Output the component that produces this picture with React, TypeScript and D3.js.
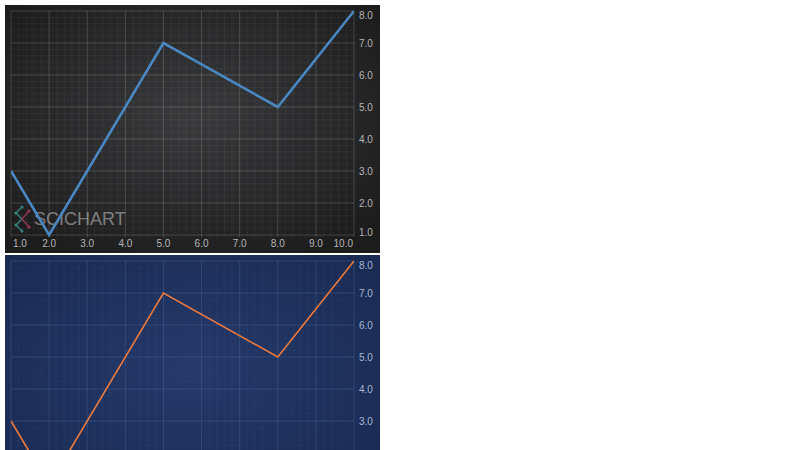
import { useMemo } from "react";
import * as d3 from "d3";

/* data */
const xValues = [1, 2, 5, 8, 10];
const yValues = [3, 1, 7, 5, 8];
const xTicks = [1, 2, 3, 4, 5, 6, 7, 8, 9, 10];
const yTicks = [1, 2, 3, 4, 5, 6, 7, 8];

interface Theme {
  id: string;
  bgEdge: string;
  bgCenter: string;
  major: string;
  minor: string;
  label: string;
  line: string;
  lineWidth: number;
  watermark: boolean;
}

const darkTheme: Theme = {
  id: "dark",
  bgEdge: "#1c1c1d",
  bgCenter: "#393a3c",
  major: "rgba(255,255,255,0.13)",
  minor: "rgba(255,255,255,0.045)",
  label: "#b4b4b4",
  line: "#4a86c0",
  lineWidth: 2.6,
  watermark: true,
};

const blueTheme: Theme = {
  id: "blue",
  bgEdge: "#1a2b52",
  bgCenter: "#23396a",
  major: "rgba(160,190,240,0.12)",
  minor: "rgba(160,190,240,0.045)",
  label: "#a6b6d4",
  line: "#ee7a3c",
  lineWidth: 1.6,
  watermark: false,
};

const VIEW_H = 450;
const PANEL_W = 375;
const PANEL_H = 248;
const PLOT = { left: 6, top: 6, right: 349, bottom: 230 };
const FONT = "'Liberation Sans', Arial, sans-serif";

function Panel({ theme, x0, y0 }: { theme: Theme; x0: number; y0: number }) {
  const xScale = useMemo(
    () => d3.scaleLinear().domain([1, 10]).range([PLOT.left, PLOT.right]),
    []
  );
  const yScale = useMemo(
    () => d3.scaleLinear().domain([1, 8]).range([PLOT.bottom, PLOT.top]),
    []
  );

  const path = useMemo(() => {
    const line = d3
      .line<number>()
      .x((_, i) => xScale(xValues[i]))
      .y((d) => yScale(d));
    return line(yValues) ?? "";
  }, [xScale, yScale]);

  const minorX = d3.range(1, 10.001, 0.2);
  const minorY = d3.range(1, 8.001, 0.2);
  const fmt = d3.format(".1f");
  // the page window cuts the lower panel; labels below it are not drawn
  const visible = (y: number) => y0 + y + 5 < VIEW_H;

  return (
    <g transform={`translate(${x0},${y0})`}>
      <defs>
        <radialGradient id={`bg-${theme.id}`} cx="50%" cy="45%" r="65%">
          <stop offset="0%" stopColor={theme.bgCenter} />
          <stop offset="100%" stopColor={theme.bgEdge} />
        </radialGradient>
        <clipPath id={`clip-${theme.id}`}>
          <rect x={PLOT.left} y={PLOT.top - 2} width={PLOT.right - PLOT.left} height={PLOT.bottom - PLOT.top + 4} />
        </clipPath>
      </defs>
      <rect width={PANEL_W} height={PANEL_H} fill={`url(#bg-${theme.id})`} />

      {/* minor grid */}
      {minorX.map((v, i) => (
        <line key={`mx${i}`} x1={xScale(v)} x2={xScale(v)} y1={PLOT.top} y2={PLOT.bottom + 2} stroke={theme.minor} />
      ))}
      {minorY.map((v, i) => (
        <line key={`my${i}`} y1={yScale(v)} y2={yScale(v)} x1={PLOT.left} x2={PLOT.right} stroke={theme.minor} />
      ))}
      {/* major grid */}
      {xTicks.map((v) => (
        <line key={`gx${v}`} x1={xScale(v)} x2={xScale(v)} y1={PLOT.top} y2={PLOT.bottom + 2} stroke={theme.major} />
      ))}
      {yTicks.map((v) => (
        <line key={`gy${v}`} y1={yScale(v)} y2={yScale(v)} x1={PLOT.left} x2={PLOT.right} stroke={theme.major} />
      ))}

      {theme.watermark && (
        <g opacity={0.75}>
          <polyline points="17,202 11,208 17,214 11,220 17,226" fill="none" stroke="#3aa6a0" strokeWidth={1.3} />
          <polyline points="24,206 17,214 24,222" fill="none" stroke="#c0406a" strokeWidth={1.3} />
          {[
            [17, 202],
            [11, 208],
            [11, 220],
            [17, 226],
            [24, 206],
            [24, 222],
          ].map(([cx, cy], i) => (
            <circle key={i} cx={cx} cy={cy} r={1.6} fill={i > 3 ? "#c0406a" : "#3aa6a0"} />
          ))}
          <text x={29} y={220} fontSize={18} fill="rgba(255,255,255,0.55)" fontFamily={FONT}>
            SCICHART
          </text>
        </g>
      )}

      <path
        d={path}
        fill="none"
        stroke={theme.line}
        strokeWidth={theme.lineWidth}
        strokeLinejoin="miter"
        clipPath={`url(#clip-${theme.id})`}
      />

      {/* x axis labels */}
      {visible(PLOT.bottom + 12) &&
        xTicks.map((v, i) => (
          <text
            key={`xl${v}`}
            x={i === 0 ? xScale(v) + 2 : i === xTicks.length - 1 ? xScale(v) - 1 : xScale(v)}
            y={PLOT.bottom + 12}
            textAnchor={i === 0 ? "start" : i === xTicks.length - 1 ? "end" : "middle"}
            fontSize={10}
            fill={theme.label}
            fontFamily={FONT}
          >
            {fmt(v)}
          </text>
        ))}
      {/* y axis labels */}
      {yTicks.map((v) => {
        const y = Math.min(Math.max(yScale(v), PLOT.top + 4), PLOT.bottom - 3);
        if (!visible(y)) return null;
        return (
          <text
            key={`yl${v}`}
            x={PLOT.right + 5}
            y={y}
            dy="0.35em"
            fontSize={10}
            fill={theme.label}
            fontFamily={FONT}
          >
            {fmt(v)}
          </text>
        );
      })}
    </g>
  );
}

export default function App() {
  return (
    <div style={{ position: "fixed", left: 0, top: 0, width: 800, height: VIEW_H, background: "#fff", overflow: "hidden" }}>
      <svg width={800} height={VIEW_H} style={{ display: "block" }}>
        <Panel theme={darkTheme} x0={5} y0={5} />
        <Panel theme={blueTheme} x0={5} y0={255} />
      </svg>
    </div>
  );
}
